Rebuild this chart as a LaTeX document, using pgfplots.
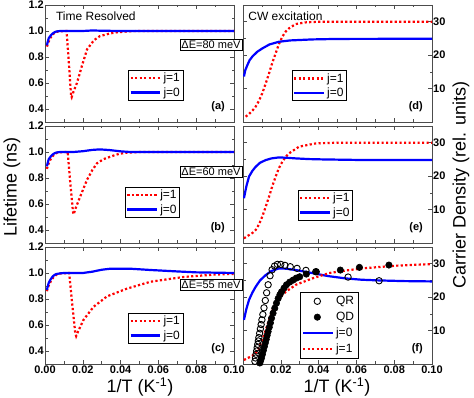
\documentclass[border=0pt]{standalone}
\usepackage{fontspec}
\setmainfont{Liberation Sans}
\usepackage{pgfplots}
\pgfplotsset{compat=1.18}
\pgfplotsset{
  panel/.style={
    scale only axis, width=189pt, height=117pt,
    xmin=0, xmax=0.1,
    xtick={0,0.02,0.04,0.06,0.08,0.1}, minor x tick num=1,
    tick align=inside,
    major tick length=4pt, minor tick length=2.5pt,
    axis line style={black!70, line width=0.8pt},
    every tick/.style={black!70, line width=0.6pt},
    tick label style={font=\fontsize{11}{12}\selectfont\bfseries},
    yticklabel style={inner sep=1pt},
    xticklabel style={inner sep=2pt},
    legend style={font=\fontsize{12}{13}\selectfont, draw=black, line width=0.6pt, inner sep=1pt, row sep=0pt},
    legend cell align=left,
    legend image code/.code={\draw[##1] (0cm,0cm) -- (1.05cm,0cm);},
  },
  lft/.style={panel, ymin=0.3, ymax=1.2, ytick={0.4,0.6,0.8,1.0,1.2}, yticklabels={0.4,0.6,0.8,1.0,1.2}, minor y tick num=1},
  rgt/.style={panel, ymin=0, ymax=35, ytick={10,20,30}, yticklabels={10,20,30}, minor y tick num=1, yticklabel pos=right},
  jone/.style={red, line width=2.2pt, dash pattern=on 2.2pt off 2.3pt},
  jzero/.style={blue, line width=2.2pt},
  markleg/.style={legend image code/.code={\draw[##1] plot coordinates {(0.5cm,0cm)};}},
}
\tikzset{
  ann/.style={font=\fontsize{12}{14}\selectfont},
  plab/.style={font=\fontsize{11}{12}\selectfont\bfseries},
}
\begin{document}
\begin{tikzpicture}
\useasboundingbox (0,0) rectangle (474pt,398pt);
% (a)
\begin{axis}[lft, at={(45pt,393pt)}, anchor=north west, xticklabels={},
  legend style={at={(0.44,0.445)}, anchor=north west}]
\addplot[jone] coordinates {(0.001,0.88) (0.0015,0.9) (0.002,0.92) (0.003,0.95) (0.004,0.97) (0.005,0.985) (0.006,0.993) (0.008,0.998) (0.0114,1.0) (0.0120,0.88) (0.0126,0.76) (0.0132,0.63) (0.0138,0.50) (0.0141,0.49) (0.0150,0.53) (0.0169,0.60) (0.0195,0.73) (0.0223,0.86) (0.026,0.93) (0.029,0.96) (0.034,0.98) (0.038,0.99) (0.045,0.998) (0.05,1.0) (0.1,1.0)};
\addlegendentry{j=1}
\addplot[jzero] coordinates {(0.001,0.89) (0.0015,0.92) (0.002,0.945) (0.003,0.965) (0.004,0.98) (0.005,0.99) (0.006,0.996) (0.008,1.0) (0.02,1.0) (0.025,1.004) (0.03,1.002) (0.04,1.0) (0.1,1.0)};
\addlegendentry{j=0}
\node[ann, anchor=north west] at (rel axis cs:0.04,0.975) {Time Resolved};
\node[plab, anchor=south east] at (rel axis cs:0.97,0.06) {(a)};
\end{axis}
% (b)
\begin{axis}[lft, at={(45pt,272pt)}, anchor=north west, xticklabels={},
  legend style={at={(0.423,0.479)}, anchor=north west}]
\addplot[jone] coordinates {(0.001,0.87) (0.0015,0.895) (0.002,0.915) (0.003,0.945) (0.004,0.967) (0.005,0.982) (0.006,0.992) (0.008,0.998) (0.0120,1.0) (0.0127,0.88) (0.0134,0.76) (0.0141,0.65) (0.0148,0.54) (0.0152,0.52) (0.0160,0.56) (0.0186,0.656) (0.0222,0.785) (0.0250,0.86) (0.0275,0.913) (0.031,0.945) (0.0346,0.964) (0.039,0.985) (0.0433,0.995) (0.05,1.0) (0.1,1.0)};
\addlegendentry{j=1}
\addplot[jzero] coordinates {(0.001,0.89) (0.0015,0.92) (0.002,0.945) (0.003,0.965) (0.004,0.98) (0.005,0.99) (0.006,0.996) (0.008,1.0) (0.015,1.0) (0.02,1.006) (0.025,1.016) (0.029,1.02) (0.034,1.015) (0.04,1.005) (0.045,1.0) (0.1,1.0)};
\addlegendentry{j=0}
\node[plab, anchor=south east] at (rel axis cs:0.97,0.06) {(b)};
\end{axis}
% (c)
\begin{axis}[lft, at={(45pt,151pt)}, anchor=north west, xticklabels={0.00,0.02,0.04,0.06,0.08,0.10},
  legend style={at={(0.44,0.436)}, anchor=north west}]
\addplot[jone] coordinates {(0.001,0.86) (0.0015,0.885) (0.002,0.905) (0.003,0.935) (0.004,0.958) (0.005,0.975) (0.006,0.986) (0.008,0.996) (0.0128,1.0) (0.0136,0.88) (0.0144,0.76) (0.0152,0.65) (0.0160,0.54) (0.0165,0.515) (0.0175,0.55) (0.0204,0.64) (0.0257,0.74) (0.0328,0.82) (0.0434,0.88) (0.0559,0.933) (0.0736,0.97) (0.09,0.988) (0.1,0.993)};
\addlegendentry{j=1}
\addplot[jzero] coordinates {(0.001,0.87) (0.0015,0.9) (0.002,0.925) (0.003,0.952) (0.004,0.972) (0.005,0.985) (0.006,0.992) (0.008,0.997) (0.01,1.0) (0.02,1.0) (0.025,1.01) (0.03,1.025) (0.0346,1.033) (0.045,1.033) (0.0559,1.023) (0.07,1.012) (0.0798,1.005) (0.1,1.0)};
\addlegendentry{j=0}
\node[plab, anchor=south east] at (rel axis cs:0.97,0.06) {(c)};
\end{axis}
% (d)
\begin{axis}[rgt, at={(243pt,393pt)}, anchor=north west, xticklabels={},
  legend style={at={(0.258,0.444)}, anchor=north west}]
\addplot[jone] coordinates {(0.0014,1.6) (0.003,2.3) (0.005,3.4) (0.0067,4.6) (0.0085,6.4) (0.0102,8.6) (0.012,11.5) (0.0138,14.6) (0.0155,17.7) (0.0173,20.6) (0.019,23.3) (0.0208,25.5) (0.0225,27) (0.0243,28) (0.0279,29.3) (0.0331,29.8) (0.04,30) (0.1,30)};
\addlegendentry{j=1}
\addplot[jzero] coordinates {(0.0005,13.6) (0.0012,15.5) (0.0023,17) (0.0035,18.5) (0.005,19.6) (0.0075,21) (0.0102,22) (0.014,23.2) (0.019,24) (0.025,24.4) (0.0367,24.7) (0.05,24.85) (0.1,24.9)};
\addlegendentry{j=0}
\node[ann, anchor=north west] at (rel axis cs:0.01,0.975) {CW excitation};
\node[plab, anchor=south east] at (rel axis cs:0.97,0.06) {(d)};
\end{axis}
% (e)
\begin{axis}[rgt, at={(243pt,272pt)}, anchor=north west, xticklabels={},
  legend style={at={(0.29,0.453)}, anchor=north west}]
\addplot[jone] coordinates {(0.0005,1.4) (0.003,2.3) (0.005,3.0) (0.0067,3.9) (0.0085,5.6) (0.0102,7.9) (0.012,10.8) (0.0138,13.9) (0.0155,17) (0.0173,19.9) (0.019,22.4) (0.0208,24.3) (0.0225,25.7) (0.0243,26.8) (0.0296,28.8) (0.0385,29.8) (0.05,30) (0.1,30)};
\addlegendentry{j=1}
\addplot[jzero] coordinates {(0.0005,13.4) (0.0018,17) (0.0032,19.9) (0.005,21.6) (0.0067,22.8) (0.009,24) (0.012,24.8) (0.015,25.3) (0.019,25.6) (0.023,25.5) (0.028,25.3) (0.035,25.1) (0.0423,25.0) (0.06,24.85) (0.1,24.85)};
\addlegendentry{j=0}
\node[plab, anchor=south east] at (rel axis cs:0.97,0.06) {(e)};
\end{axis}
% (f)
\begin{axis}[rgt, at={(243pt,151pt)}, anchor=north west, xticklabels={,0.02,0.04,0.06,0.08,0.10},
  legend style={at={(0.30,0.615)}, anchor=north west, row sep=2pt, inner sep=2pt}]
\addplot[only marks, mark=o, mark size=3.2pt, mark options={black, line width=0.9pt}, markleg] coordinates {
(0.0063,0.8) (0.0066,1.8) (0.0069,2.9) (0.0072,3.9) (0.0075,4.9) (0.0078,5.9) (0.0081,6.9) (0.0084,7.9) (0.0088,9.2) (0.0092,10.5) (0.0096,11.8) (0.0100,13.2) (0.0105,14.8) (0.0111,16.8) (0.0118,19.0) (0.0125,21.3) (0.0133,23.7) (0.0143,26.4) (0.0154,28.2) (0.0167,29.3) (0.0182,29.8) (0.0200,29.8) (0.0222,29.5) (0.0250,29.1) (0.0286,28.6) (0.0333,28.0) (0.0385,27.6) (0.0556,26.0) (0.0720,24.9)};
\addlegendentry{QR}
\addplot[only marks, mark=*, mark size=3.2pt, mark options={black, fill=black, line width=0.6pt}, markleg] coordinates {
(0.0089,0.3) (0.0093,1.0) (0.0098,1.8) (0.0103,2.9) (0.0108,4.1) (0.0113,5.2) (0.0118,6.3) (0.0123,7.4) (0.0128,8.6) (0.0133,9.7) (0.0139,11.0) (0.0145,12.3) (0.0151,13.7) (0.0159,15.2) (0.0168,16.7) (0.0177,18.2) (0.0186,19.6) (0.0195,20.7) (0.0204,21.6) (0.0217,22.7) (0.0230,23.7) (0.0247,24.5) (0.0265,25.1) (0.0282,25.7) (0.0300,26.1) (0.0335,26.9) (0.0388,27.6) (0.0515,28.1) (0.0616,28.9) (0.0772,29.6)};
\addlegendentry{QD}
\addplot[jzero] coordinates {(0.0005,13.2) (0.0018,16.5) (0.0032,19.2) (0.005,21.4) (0.0067,23.1) (0.009,25) (0.012,26.6) (0.015,27.8) (0.019,28.6) (0.023,28.5) (0.028,28.1) (0.0367,27.2) (0.045,26.3) (0.0543,25.6) (0.063,25.2) (0.072,25) (0.085,24.8) (0.1,24.7)};
\addlegendentry{j=0}
\addplot[jone] coordinates {(0.0005,1.2) (0.003,1.9) (0.005,2.5) (0.0067,3.2) (0.0085,4.9) (0.0102,7.2) (0.012,10.2) (0.0138,13.2) (0.0155,15.9) (0.0173,18.2) (0.02,20.2) (0.0226,21.6) (0.028,23.7) (0.0367,25.6) (0.0455,27.2) (0.055,28.0) (0.063,28.6) (0.0808,29.4) (0.1,29.9)};
\addlegendentry{j=1}
\node[plab, anchor=south east] at (rel axis cs:0.97,0.06) {(f)};
\end{axis}
% shared annotations
\node[draw=black, line width=0.6pt, fill=white, inner sep=1.5pt, font=\fontsize{11}{12}\selectfont] at (211pt,353pt) {ΔE=80 meV};
\node[draw=black, line width=0.6pt, fill=white, inner sep=1.5pt, font=\fontsize{11}{12}\selectfont] at (211pt,226.5pt) {ΔE=60 meV};
\node[draw=black, line width=0.6pt, fill=white, inner sep=1.5pt, font=\fontsize{11}{12}\selectfont] at (211pt,113.5pt) {ΔE=55 meV};
\node[rotate=90, font=\fontsize{18}{20}\selectfont] at (12pt,211pt) {Lifetime (ns)};
\node[rotate=90, font=\fontsize{18}{20}\selectfont] at (461pt,213pt) {Carrier Density (rel. units)};
\node[font=\fontsize{18}{20}\selectfont, inner sep=0pt] at (140pt,11pt) {1/T (K\textsuperscript{-1})};
\node[font=\fontsize{18}{20}\selectfont, inner sep=0pt] at (337pt,11pt) {1/T (K\textsuperscript{-1})};
\end{tikzpicture}
\end{document}
